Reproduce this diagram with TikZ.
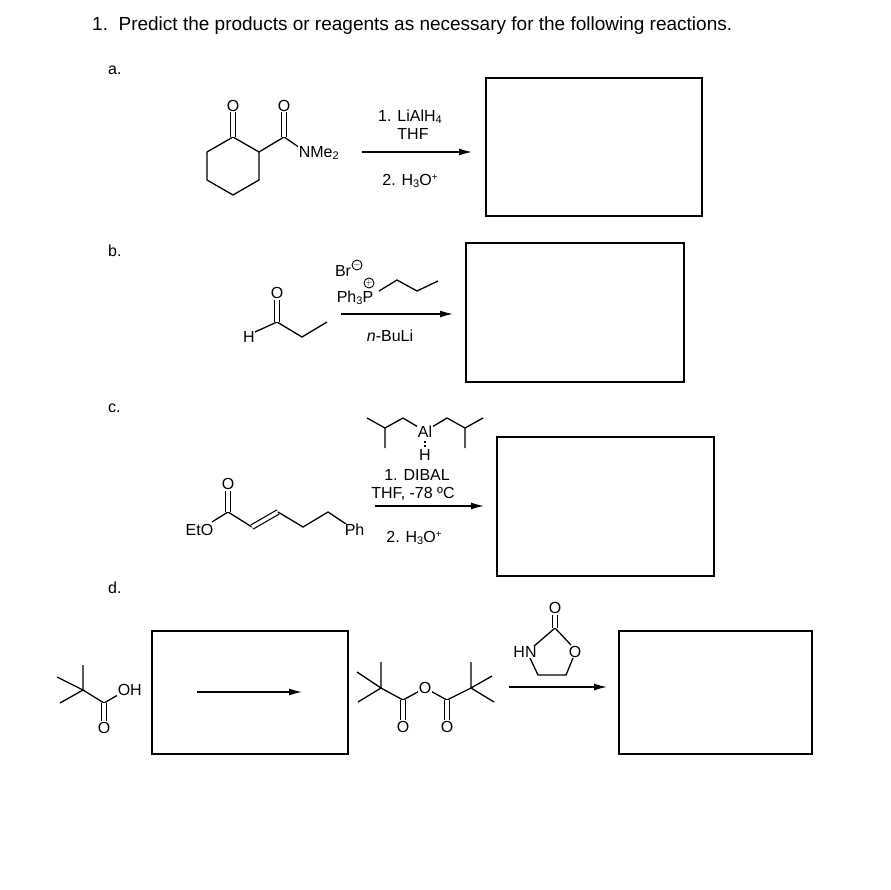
\documentclass[tikz,border=0pt]{standalone}
\usepackage{fontspec}
\setmainfont{Liberation Sans}
\usetikzlibrary{arrows.meta}
\newcommand{\sbx}[1]{\raisebox{-0.25ex}{\fontsize{11}{11}\selectfont #1}}
\newcommand{\spx}[1]{\raisebox{0.6ex}{\fontsize{10}{10}\selectfont #1}}
\begin{document}
\begin{tikzpicture}[x=1pt,y=-1pt,
 bd/.style={line width=1.3pt},
 dbl/.style={double,double distance=3.4pt,line width=1.2pt},
 atom/.style={fill=white,inner sep=0.6pt,font=\fontsize{16}{17}\selectfont},
 lbl/.style={inner sep=0pt,font=\fontsize{16}{17}\selectfont},
 box/.style={draw,line width=1.4pt},
 rxn/.style={line width=1.3pt,-{Latex[length=13pt,width=7pt]}}]
\useasboundingbox[fill=white] (0,0) rectangle (890,890);
\node[lbl,anchor=west,font=\fontsize{19}{21}\selectfont] (title) at (92,26) {1.\ \ Predict the products or reagents as necessary for the following reactions.};
\node[lbl,anchor=west] (la) at (108,70) {a.};
\node[lbl,anchor=west] (lb) at (108,251) {b.};
\node[lbl,anchor=west] (lc) at (108,408) {c.};
\node[lbl,anchor=west] (ld) at (108,588) {d.};
% boxes
\draw[box] (486,78) rectangle (702,216);
\draw[box] (466,243) rectangle (684,382);
\draw[box] (497,437) rectangle (714,576);
\draw[box] (152,631) rectangle (348,754);
\draw[box] (619,631) rectangle (812,754);
% ---- a
\draw[bd] (233,137)--(259,152)--(259,180)--(233,195)--(207,180)--(207,152)--cycle;
\draw[dbl] (233,137)--(233,112);
\draw[bd] (259,152)--(284,137)--(303,150);
\draw[dbl] (284,137)--(284,112);
\node[atom] (oa1) at (233,106) {O};
\node[atom] (oa2) at (284,106) {O};
\node[atom,anchor=west] (na) at (298,153) {NMe\sbx{2}};
\coordinate (a1) at (362,152); \coordinate (a2) at (472,152);
\draw[rxn] (a1)--(a2);
\node[lbl] (ra1) at (410,117) {1. LiAlH\sbx{4}};
\node[lbl] (ra2) at (413,134) {THF};
\node[lbl] (ra3) at (410,181) {2. H\sbx{3}O\spx{+}};
% ---- b
\draw[bd] (255,332)--(277,322)--(302,337)--(327,322);
\draw[dbl] (277,322)--(277,300);
\node[atom] (ob) at (277,293) {O};
\node[atom] (hb) at (249,337) {H};
\node[lbl] (br) at (343,271) {Br};
\node[draw,circle,line width=0.9pt,inner sep=0pt,minimum size=10pt,font=\fontsize{9}{9}\selectfont] (brm) at (357,265) {$-$};
\node[lbl] (pph) at (355,298) {Ph\sbx{3}P};
\node[draw,circle,line width=0.9pt,inner sep=0pt,minimum size=10pt,font=\fontsize{9}{9}\selectfont] (pp) at (369,283) {$+$};
\draw[bd] (379,291)--(397,280)--(417,291)--(438,281);
\coordinate (b1) at (341,314); \coordinate (b2) at (453,314);
\draw[rxn] (b1)--(b2);
\node[lbl] (rb) at (390,336) {\textit{n}-BuLi};
% ---- c
\draw[bd] (212,522)--(228,512)--(252,527);
\draw[dbl] (228,512)--(228,491);
\draw[dbl] (252,527)--(278,512);
\draw[bd] (278,512)--(303,527)--(328,512)--(346,524);
\node[atom] (oc1) at (228,484) {O};
\node[atom,anchor=east] (eto) at (214,530) {EtO};
\node[atom,anchor=west] (ph) at (344,530) {Ph};
% DIBAL
\draw[bd] (367,418)--(385,428)--(385,448);
\draw[bd] (385,428)--(403,418)--(418,427);
\draw[bd] (483,418)--(465,428)--(465,448);
\draw[bd] (465,428)--(447,418)--(432,427);
\node[atom] (al) at (425,432) {Al};
\draw[line width=1.6pt,dash pattern=on 2pt off 1.5pt] (425,441)--(425,447);
\node[atom] (hc) at (425,455) {H};
\node[lbl] (rc1) at (417,475) {1. DIBAL};
\node[lbl] (rc2) at (413,494) {THF, -78 ºC};
\coordinate (c1) at (375,506); \coordinate (c2) at (484,506);
\draw[rxn] (c1)--(c2);
\node[lbl] (rc3) at (414,538) {2. H\sbx{3}O\spx{+}};
% ---- d
\draw[bd] (57,677)--(83,690)--(60,703);
\draw[bd] (83,665)--(83,690)--(104,703)--(123,692);
\draw[dbl] (104,703)--(104,721);
\node[atom] (od1) at (104,728) {O};
\node[atom,anchor=west] (oh) at (117,690) {OH};
\coordinate (d1) at (197,692); \coordinate (d2) at (302,692);
\draw[rxn] (d1)--(d2);
% anhydride
\draw[bd] (357,672)--(381,688)--(358,702);
\draw[bd] (381,662)--(381,688)--(403,700)--(425,688)--(447,700)--(471,688)--(494,702);
\draw[bd] (471,662)--(471,688)--(492,676);
\draw[dbl] (403,700)--(403,720);
\draw[dbl] (447,700)--(447,720);
\node[atom] (ob1) at (425,688) {O};
\node[atom] (od2) at (403,727) {O};
\node[atom] (od3) at (447,727) {O};
% oxazolidinone
\draw[bd] (533,647)--(555,628)--(571,645);
\draw[bd] (530,658)--(538,675)--(566,675)--(573,658);
\draw[dbl] (555,628)--(555,615);
\node[atom] (ox1) at (555,608) {O};
\node[atom] (hn) at (525,652) {HN};
\node[atom] (ox2) at (575,652) {O};
\coordinate (e1) at (509,687); \coordinate (e2) at (607,687);
\draw[rxn] (e1)--(e2);
\end{tikzpicture}
\end{document}
